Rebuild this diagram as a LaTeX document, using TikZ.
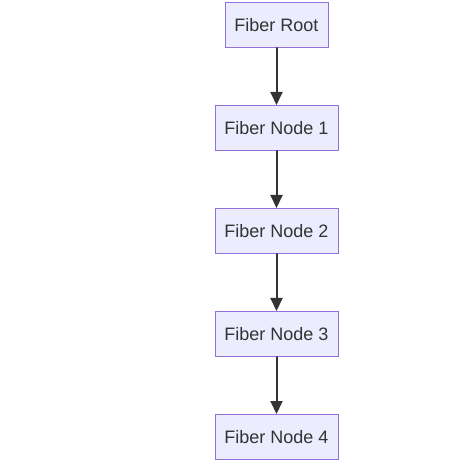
\documentclass[tikz,border=0pt]{standalone}
\usepackage{fontspec}
\setmainfont{Liberation Sans}
\usepackage{tikz}
\usetikzlibrary{arrows.meta}
\definecolor{boxfill}{HTML}{ECECFF}
\definecolor{boxline}{HTML}{9370DB}
\definecolor{edgecol}{HTML}{333333}

\begin{document}
\begin{tikzpicture}[x=1pt, y=-1pt, style={line cap = round},
    fiber/.style={draw=boxline, fill=boxfill, line width=1pt, minimum height=45pt,
      minimum width=123pt, inner sep=0pt, font=\fontsize{18}{21}\selectfont, text=edgecol},
    link/.style={draw=edgecol, line width=2pt, -{Triangle[length=13pt, width=12pt]}}]
  \useasboundingbox (0,0) rectangle (474,470);

  \node[fiber, minimum width=103pt] (root) at (276.5, 25) {Fiber Root};
  \foreach \i in {1,...,4}
    \node[fiber] (n\i) at (276.5, 25 + 103*\i) {Fiber Node \i};

  \draw[link] (root) -- (n1);
  \draw[link] (n1) -- (n2);
  \draw[link] (n2) -- (n3);
  \draw[link] (n3) -- (n4);

\end{tikzpicture}
\end{document}
